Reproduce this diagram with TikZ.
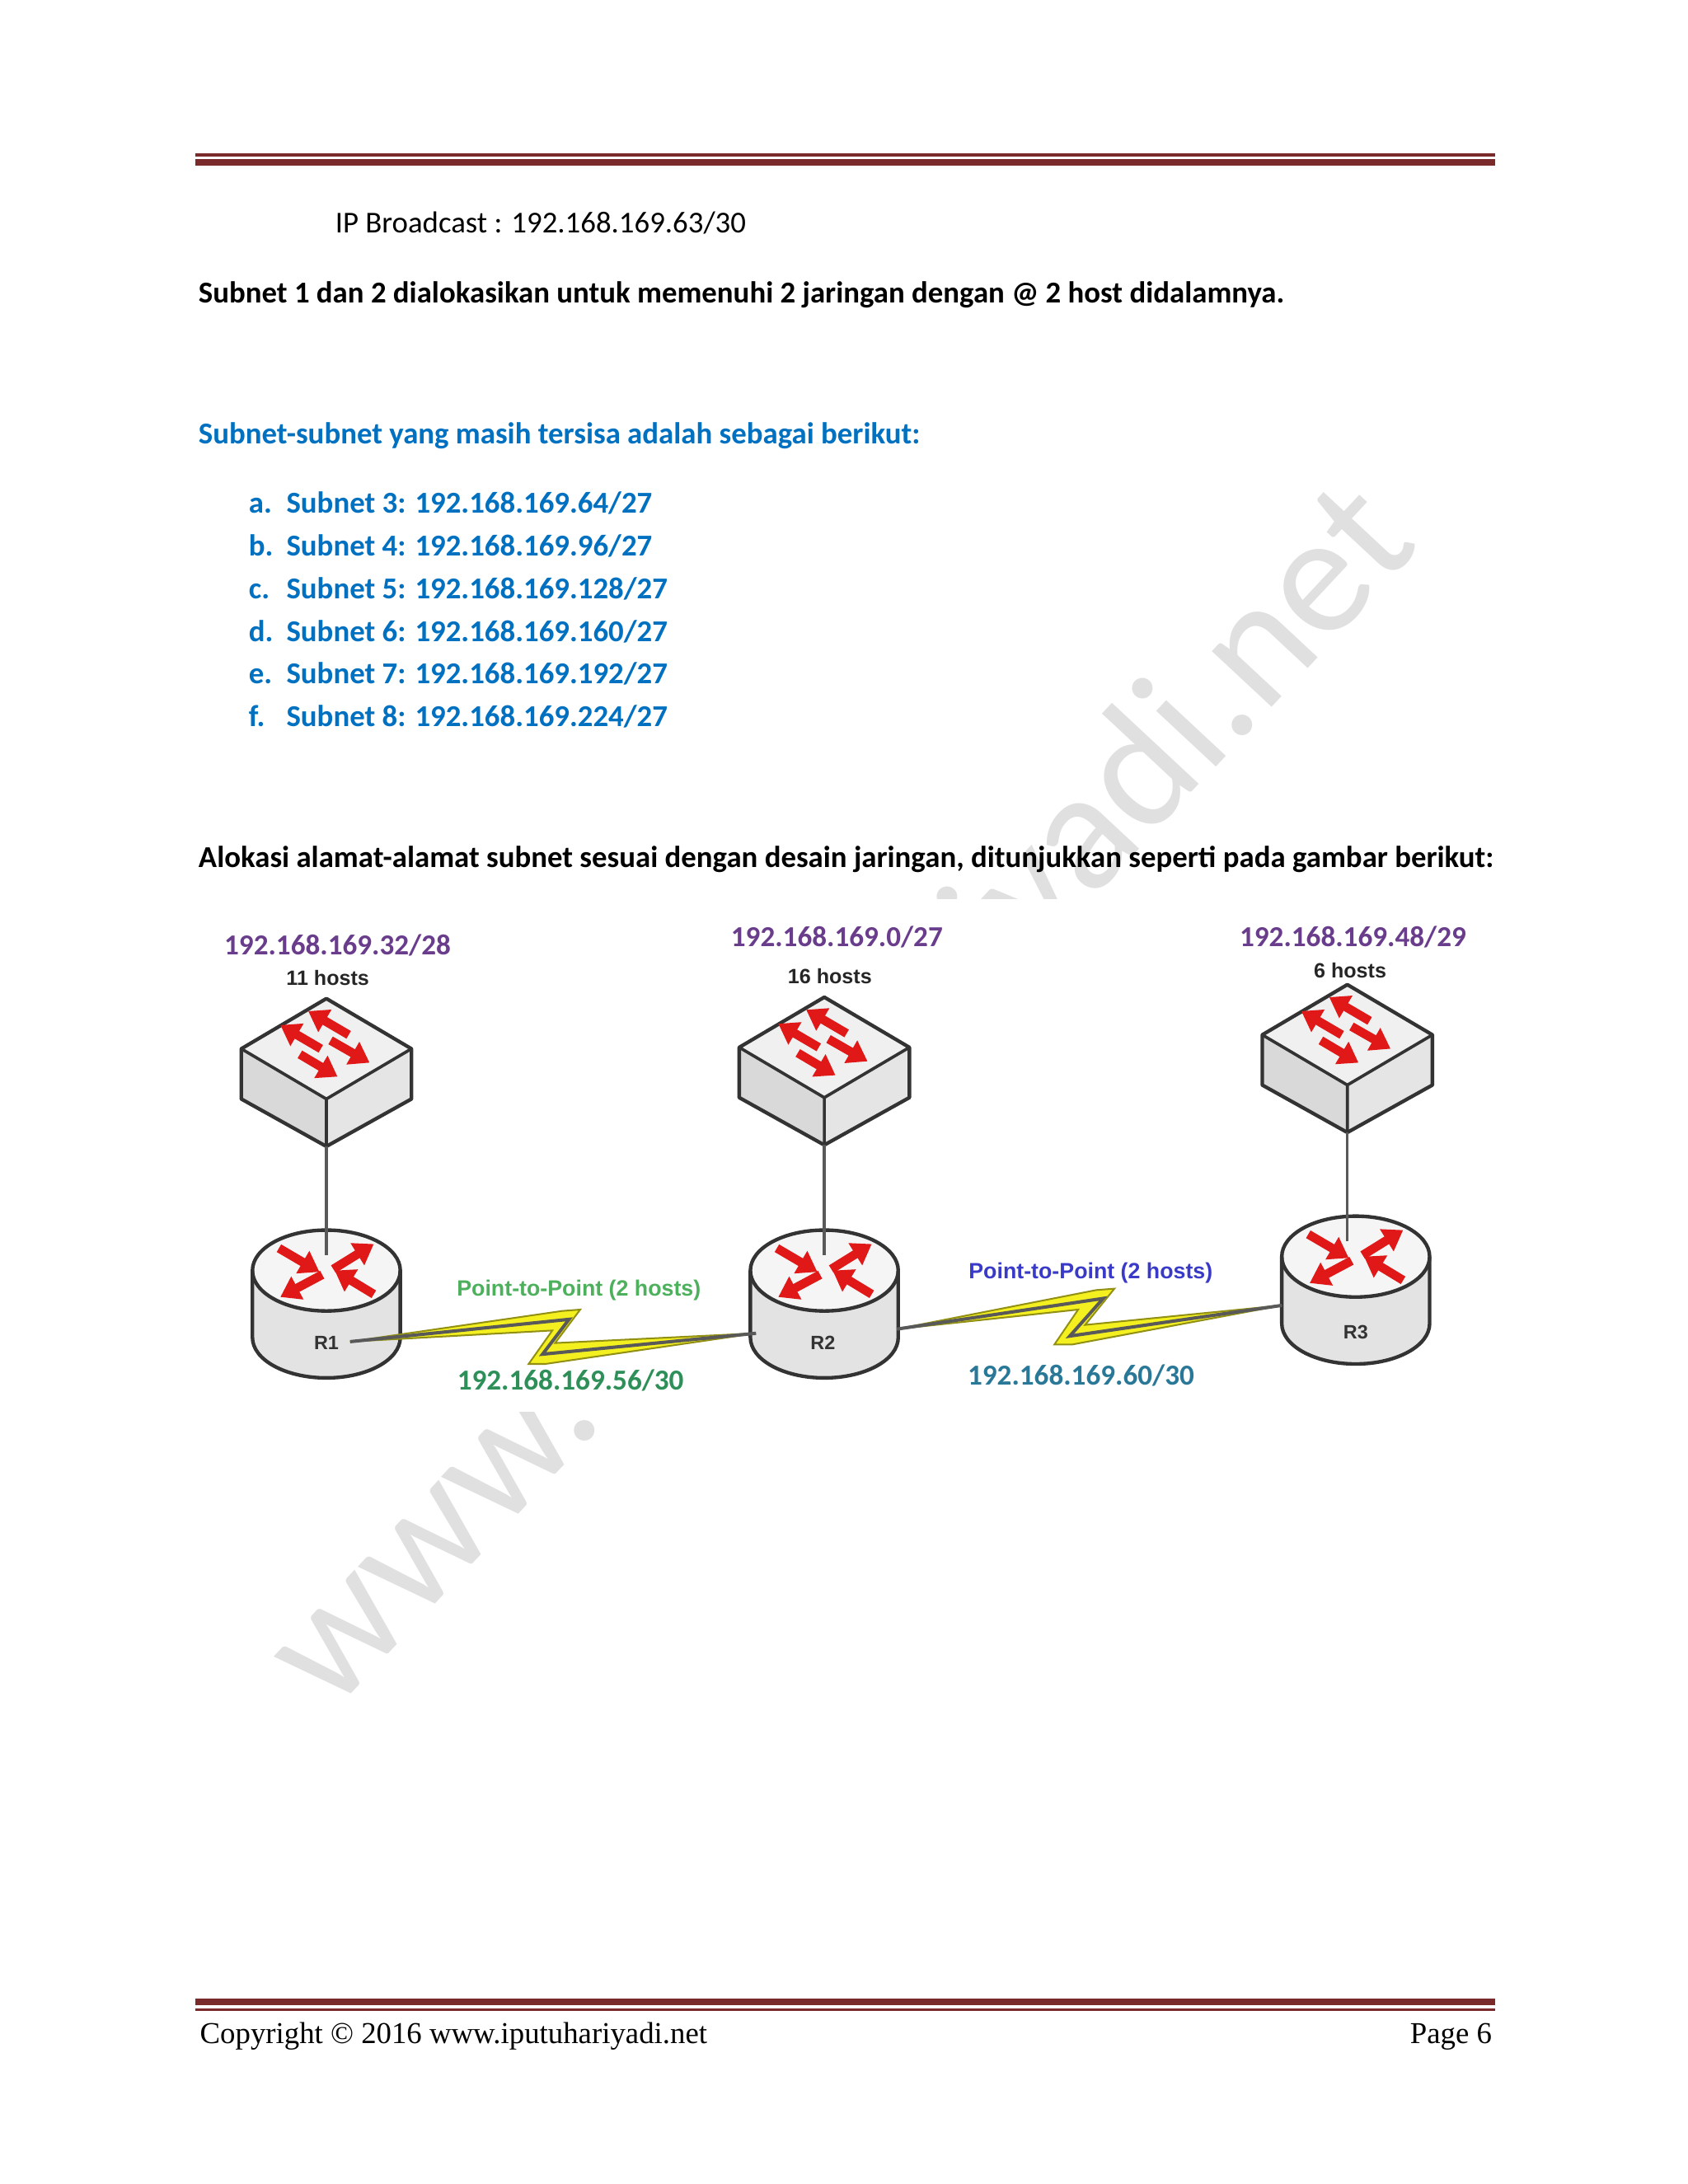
\documentclass[tikz,border=0pt]{standalone}
\usepackage{fontspec}
\setmainfont{Carlito}
\newfontfamily\arialf{Liberation Sans}
\newfontfamily\serf{Liberation Serif}
\usetikzlibrary{arrows.meta}
\definecolor{rulered}{HTML}{7A2A2A}
\definecolor{hblue}{HTML}{0070C0}
\definecolor{ippurple}{HTML}{6A3D8C}
\definecolor{pgreen}{HTML}{4CB05C}
\definecolor{ipgreen}{HTML}{2E9058}
\definecolor{pblue}{HTML}{3A3AC8}
\definecolor{ipteal}{HTML}{2A7898}
\definecolor{boltyellow}{HTML}{F4F020}
\definecolor{swred}{HTML}{E01818}
\tikzset{
  body/.style={anchor=base west,font=\fontsize{11}{13}\selectfont,inner sep=0},
  bodyb/.style={body,font=\fontsize{11}{13}\selectfont\bfseries},
  blueb/.style={bodyb,text=hblue},
  iplab/.style={font=\fontsize{10.5}{12}\selectfont\bfseries,text=ippurple,inner sep=0},
  hostlab/.style={font=\arialf\fontsize{7.5}{9}\selectfont\bfseries,text=black!85,inner sep=0},
  p2plab/.style={font=\arialf\fontsize{8}{9}\selectfont\bfseries,inner sep=0},
  rlab/.style={font=\arialf\fontsize{7}{9}\selectfont\bfseries,text=black!80,inner sep=0},
  redarr/.style={draw=swred,line width=3.2,-{Triangle[length=7,width=9]}},
  wire/.style={draw=black!65,line width=1.2},
  bolt/.style={fill=boltyellow,draw=black!40!boltyellow,line width=0.6},
  switchpic/.pic={
    \fill[gray!12] (0,0)--(61,36)--(0,72)--(-61,36)--cycle;
    \fill[gray!30] (-61,36)--(0,72)--(0,106)--(-61,72)--cycle;
    \fill[gray!20] (61,36)--(0,72)--(0,106)--(61,72)--cycle;
    \draw[black!80,line width=1.3,line join=round] (0,0)--(61,36)--(61,72)--(0,106)--(-61,72)--(-61,36)--cycle;
    \draw[black!80,line width=1.1] (-61,36)--(0,72)--(61,36) (0,72)--(0,106);
    \begin{scope}[shift={(0,36)}]
      \draw[redarr] (-4,0)--(-33,-17);
      \draw[redarr] (16,-10)--(-13,-27);
      \draw[redarr] (-19,4)--(8,20);
      \draw[redarr] (3,-6)--(31,10);
    \end{scope}
  },
  routerpic/.pic={
    \fill[gray!22] (-53,29) rectangle (53,77);
    \fill[gray!22] (0,77) ellipse [x radius=53,y radius=29];
    \fill[gray!8] (0,29) ellipse [x radius=53,y radius=29];
    \draw[black!80,line width=1.3] (-53,29)--(-53,77) arc[start angle=180,end angle=360,x radius=53,y radius=-29]--(53,29);
    \draw[black!80,line width=1.3] (0,29) ellipse [x radius=53,y radius=29];
    \begin{scope}[shift={(0,29)}]
      \draw[redarr] (-34,-16)--(-5,1);
      \draw[redarr] (5,-1)--(34,-19);
      \draw[redarr] (-3,3)--(-33,19);
      \draw[redarr] (34,17)--(6,0);
    \end{scope}
  }
}
\begin{document}
\begin{tikzpicture}[x=0.5058pt,y=-0.5058pt]
\useasboundingbox[fill=white] (0,0) rectangle (1210,1566);
% watermark
\node[rotate=47,font=\fontsize{62}{62}\selectfont,text=gray!24,inner sep=0] (wm) at (605,788) {www.iputuhariyadi.net};
\fill[white] (140,645) rectangle (1072,1012);
% rules
\draw[rulered,line width=1] (140,111)--(1072,111);
\fill[rulered] (140,114) rectangle (1072,119);
\fill[rulered] (140,1433) rectangle (1072,1438);
\draw[rulered,line width=1] (140,1441)--(1072,1441);
% text
\node[body] (t1) at (240,167) {IP Broadcast : 192.168.169.63/30};
\node[bodyb] (t2) at (142,217) {Subnet 1 dan 2 dialokasikan untuk memenuhi 2 jaringan dengan @ 2 host didalamnya.};
\node[blueb] (t3) at (142,318) {Subnet-subnet yang masih tersisa adalah sebagai berikut:};
\foreach \l/\t [count=\i from 0] in {a./{Subnet 3: 192.168.169.64/27},b./{Subnet 4: 192.168.169.96/27},c./{Subnet 5: 192.168.169.128/27},d./{Subnet 6: 192.168.169.160/27},e./{Subnet 7: 192.168.169.192/27},f./{Subnet 8: 192.168.169.224/27}}{
  \node[blueb] (la\i) at (178,368+30.6*\i) {\l};
  \node[blueb] (li\i) at (205,368+30.6*\i) {\t};
}
\node[bodyb] (t4) at (142,622) {Alokasi alamat-alamat subnet sesuai dengan desain jaringan, ditunjukkan seperti pada gambar berikut:};
% footer
\node[anchor=base west,font=\serf\fontsize{11}{13}\selectfont,inner sep=0] (f1) at (143,1465) {Copyright © 2016 www.iputuhariyadi.net};
\node[anchor=base east,font=\serf\fontsize{11}{13}\selectfont,inner sep=0] (f2) at (1070,1465) {Page 6};
% diagram coordinates
\coordinate (s1) at (234,716); \coordinate (s2) at (591,715); \coordinate (s3) at (966,706);
\coordinate (r1) at (234,882); \coordinate (r2) at (591,882); \coordinate (r3) at (972,872);
\coordinate (s1b) at (234,822); \coordinate (s2b) at (591,821); \coordinate (s3b) at (966,812);
\coordinate (r1t) at (234,900); \coordinate (r2t) at (591,900); \coordinate (r3t) at (966,890);
\pic at (s1) {switchpic}; \pic at (s2) {switchpic}; \pic at (s3) {switchpic};
\pic at (r1) {routerpic}; \pic at (r2) {routerpic}; \pic at (r3) {routerpic};
\draw[wire,line width=1] (s1b)--(r1t); \draw[wire,line width=1] (s2b)--(r2t); \draw[wire,line width=1] (s3b)--(r3t);
\node[rlab] (R1) at (234,963) {R1};
\node[rlab] (R2) at (590,963) {R2};
\node[rlab] (R3) at (972,955) {R3};
% links
\coordinate (a1) at (251,962); \coordinate (a2) at (542,956);
\coordinate (b1) at (643,953); \coordinate (b2) at (919,936);
\fill[bolt] (a1)--(403,940)--(416,939)--(398,963)--(a2)--(391,978)--(379,978)--(396,954)--cycle;
\draw[wire] (a1)--(408,946)--(389,971)--(a2);
\fill[bolt] (b1)--(786,925)--(799,924)--(778,950)--(b2)--(769,964)--(756,964)--(773,939)--cycle;
\draw[wire] (b1)--(791,931)--(767,958)--(b2);
% labels
\node[iplab] (ip1) at (242,678) {192.168.169.32/28};
\node[hostlab] (h1) at (235,701) {11 hosts};
\node[iplab] (ip2) at (600,672) {192.168.169.0/27};
\node[hostlab] (h2) at (595,700) {16 hosts};
\node[iplab] (ip3) at (970,672) {192.168.169.48/29};
\node[hostlab] (h3) at (968,696) {6 hosts};
\node[p2plab,text=pgreen] (p1) at (415,925) {Point-to-Point (2 hosts)};
\node[p2plab,text=pblue] (p2) at (782,913) {Point-to-Point (2 hosts)};
\node[iplab,text=ipgreen] (n1) at (409,990) {192.168.169.56/30};
\node[iplab,text=ipteal] (n2) at (775,986) {192.168.169.60/30};
\end{tikzpicture}
\end{document}
